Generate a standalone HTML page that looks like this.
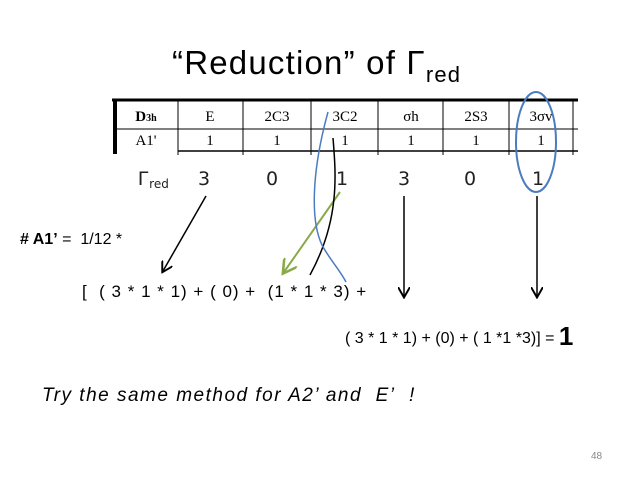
<!DOCTYPE html>
<html><head><meta charset="utf-8"><style>
body{margin:0;width:638px;height:478px;background:#fff;position:relative;overflow:hidden;font-family:"Liberation Sans",sans-serif}
.t{position:absolute;white-space:nowrap;color:#000}
</style></head><body>
<div class="t" style="left:172px;top:44px;font-size:33px;letter-spacing:1.2px">“Reduction” of Γ<span style="font-size:22px;position:relative;top:8px">red</span></div>
<svg width="638" height="478" style="position:absolute;left:0;top:0">
<g font-family="Liberation Serif" font-size="15" text-anchor="middle">
<line x1="112" y1="100" x2="578" y2="100" stroke="#000" stroke-width="3"/>
<line x1="115" y1="100" x2="115" y2="154" stroke="#000" stroke-width="4"/>
<line x1="115" y1="129" x2="578" y2="129" stroke="#000" stroke-width="1"/>
<line x1="178" y1="151" x2="578" y2="151" stroke="#000" stroke-width="1.5"/>
<g stroke="#000" stroke-width="1">
<line x1="178" y1="100" x2="178" y2="155"/><line x1="243" y1="100" x2="243" y2="155"/><line x1="311" y1="100" x2="311" y2="155"/><line x1="378" y1="100" x2="378" y2="155"/><line x1="443" y1="100" x2="443" y2="155"/><line x1="509" y1="100" x2="509" y2="155"/><line x1="573" y1="100" x2="573" y2="155"/>
</g>
<text x="146" y="121" font-weight="bold">D<tspan font-size="10">3h</tspan></text>
<text x="210" y="121">E</text><text x="277" y="121">2C3</text><text x="345" y="121">3C2</text><text x="411" y="121">σh</text><text x="476" y="121">2S3</text><text x="541" y="121">3σv</text>
<text x="146" y="145">A1'</text>
<text x="210" y="145">1</text><text x="277" y="145">1</text><text x="345" y="145">1</text><text x="411" y="145">1</text><text x="476" y="145">1</text><text x="541" y="145">1</text>
</g>
<g font-family="DejaVu Sans" font-size="19" text-anchor="middle" fill="#222">
<text x="143" y="185">Γ</text><text x="159" y="188" font-size="12">red</text>
<text x="204" y="185">3</text><text x="272" y="185">0</text><text x="342" y="185">1</text><text x="404" y="185">3</text><text x="470" y="185">0</text><text x="538" y="185">1</text>
</g>
<defs><marker id="a" markerWidth="8" markerHeight="8" refX="6" refY="4" orient="auto"><path d="M0,0 L7,4 L0,8" fill="none" stroke="#000" stroke-width="1.3"/></marker>
<marker id="g" markerWidth="8" markerHeight="8" refX="6" refY="4" orient="auto"><path d="M0,0 L7,4 L0,8" fill="none" stroke="#8aaa4a" stroke-width="1.3"/></marker></defs>
<line x1="206" y1="196" x2="163" y2="271" stroke="#000" stroke-width="1.5" marker-end="url(#a)"/>
<line x1="340" y1="192" x2="284" y2="272" stroke="#8aaa4a" stroke-width="2" marker-end="url(#g)"/>
<path d="M333,138 C336,175 340,220 310,275" fill="none" stroke="#000" stroke-width="1.5"/>
<path d="M328,112 C312,170 310,220 322,245 C330,260 340,270 346,282" fill="none" stroke="#4a7cc0" stroke-width="1.5"/>
<line x1="404" y1="196" x2="404" y2="296" stroke="#000" stroke-width="1.5" marker-end="url(#a)"/>
<line x1="537" y1="196" x2="537" y2="296" stroke="#000" stroke-width="1.5" marker-end="url(#a)"/>
<ellipse cx="536" cy="142" rx="20" ry="50" fill="none" stroke="#4a7cc0" stroke-width="2"/>
</svg>
<div class="t" style="left:20px;top:231px;font-size:16px"><b># A1’</b> =&nbsp; 1/12 *</div>
<div class="t" style="left:82px;top:282px;font-size:17px;letter-spacing:1px">[&nbsp; ( 3 * 1 * 1) + ( 0) +&nbsp; (1 * 1 * 3) +</div>
<div class="t" style="left:345px;top:319px;font-size:16px">( 3 * 1 * 1) + (0) + ( 1 *1 *3)] = <b style="font-size:26px;position:relative;top:2px">1</b></div>
<div class="t" style="left:42px;top:385px;font-size:19px;font-style:italic;letter-spacing:1.5px">Try the same method for A2’ and&nbsp; E’&nbsp; !</div>
<div class="t" style="left:591px;top:451px;font-size:10px;color:#888">48</div>
</body></html>
